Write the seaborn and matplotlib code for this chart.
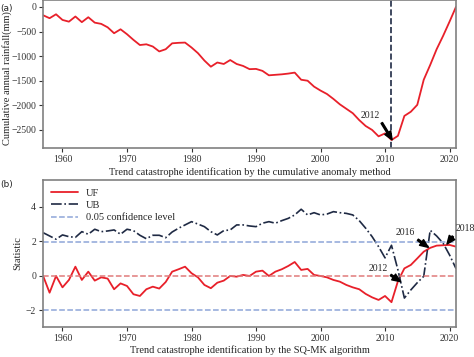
import numpy as np
import pandas as pd
import matplotlib
matplotlib.use("Agg")
import matplotlib.pyplot as plt
import seaborn as sns

years = list(range(1957, 2022))

# cumulative anomaly of annual rainfall (mm)
cum_rain = [-170, -230, -150, -265, -300, -195, -310, -210, -320, -345,
            -415, -535, -455, -555, -670, -775, -760, -805, -905, -860,
            -740, -730, -725, -825, -940, -1090, -1215, -1130, -1160, -1080,
            -1160, -1200, -1265, -1260, -1300, -1390, -1380, -1370, -1355, -1335,
            -1480, -1500, -1620, -1700, -1770, -1870, -1980, -2070, -2160, -2300,
            -2420, -2500, -2630, -2570, -2705, -2620, -2215, -2130, -1990, -1480,
            -1180, -860, -590, -300, 0]

uf = [0.0, -0.97, 0.0, -0.66, -0.23, 0.54, -0.23, 0.25, -0.27, -0.08,
      -0.15, -0.77, -0.43, -0.58, -1.06, -1.16, -0.77, -0.62, -0.73, -0.35,
      0.25, 0.39, 0.54, 0.16, -0.08, -0.52, -0.71, -0.39, -0.27, 0.0,
      -0.04, 0.06, 0.0, 0.25, 0.31, 0.0, 0.25, 0.39, 0.58, 0.81,
      0.35, 0.41, 0.06, 0.0, -0.08, -0.23, -0.33, -0.52, -0.66, -0.77,
      -1.04, -1.24, -1.39, -1.16, -1.52, -0.3, 0.44, 0.64, 1.02, 1.41,
      1.63, 1.76, 1.78, 1.8, 1.7]

ub = [2.51, 2.32, 2.13, 2.38, 2.28, 2.24, 2.57, 2.42, 2.71, 2.57,
      2.61, 2.67, 2.42, 2.71, 2.63, 2.36, 2.16, 2.36, 2.36, 2.22,
      2.55, 2.77, 2.96, 3.15, 3.01, 2.86, 2.57, 2.38, 2.63, 2.67,
      2.96, 2.96, 2.9, 2.86, 3.06, 3.15, 3.06, 3.21, 3.34, 3.54,
      3.87, 3.54, 3.67, 3.54, 3.59, 3.73, 3.67, 3.63, 3.54, 3.21,
      2.77, 2.28, 1.7, 1.05, 1.78, 0.35, -1.28, -0.81, -0.39, -0.02,
      2.65, 2.32, 1.9, 1.22, 0.43]

df = pd.DataFrame({"Year": years, "Cum": cum_rain, "UF": uf, "UB": ub})

sns.set_style("ticks")
plt.rcParams["font.family"] = ["Liberation Serif", "DejaVu Serif"]
plt.rcParams["font.size"] = 7

fig = plt.figure(figsize=(4.74, 3.57), dpi=100)
ax1 = fig.add_axes([0.091, 0.585, 0.871, 0.415])
ax2 = fig.add_axes([0.091, 0.084, 0.871, 0.412])

# (a) cumulative anomaly
sns.lineplot(data=df, x="Year", y="Cum", ax=ax1, color="#e8202a", linewidth=1.3)
ax1.axvline(2011, color="#1f2a44", linestyle="--", linewidth=1.2)
ax1.annotate("2012", xy=(2011.1, -2700), xytext=(2006.2, -2250),
             fontsize=7,
             arrowprops=dict(facecolor="black", edgecolor="black", width=1.2,
                             headwidth=5, headlength=6, shrink=0.0))
ax1.set_xlim(1957, 2021)
ax1.set_ylim(-2870, 140)
ax1.set_yticks([0, -500, -1000, -1500, -2000, -2500])
ax1.set_xticks([1960, 1970, 1980, 1990, 2000, 2010, 2020])
ax1.set_xlabel("Trend catastrophe identification by the cumulative anomaly method", fontsize=7.5, labelpad=2)
ax1.set_ylabel("Cumulative annual rainfall(mm)", fontsize=7.5)
ax1.yaxis.set_label_coords(-0.075, 0.47)

# (b) SQ-MK
sns.lineplot(data=df, x="Year", y="UF", ax=ax2, color="#e8202a", linewidth=1.3, label="UF")
sns.lineplot(data=df, x="Year", y="UB", ax=ax2, color="#1f2a44", linewidth=1.2,
             linestyle="-.", label="UB")
ax2.axhline(1.96, color="#8ea6d8", linestyle="--", linewidth=1.1, label="0.05 confidence level")
ax2.axhline(-1.96, color="#8ea6d8", linestyle="--", linewidth=1.1)
ax2.axhline(0, color="#e07a7a", linestyle="--", linewidth=1.1)

arrow = dict(facecolor="black", edgecolor="black", width=1.2, headwidth=5, headlength=6, shrink=0.0)
ax2.annotate("2012", xy=(2012.4, -0.33), xytext=(2007.4, 0.3), fontsize=7, arrowprops=arrow)
ax2.annotate("2016", xy=(2016.7, 1.66), xytext=(2011.6, 2.35), fontsize=7, arrowprops=arrow)
ax2.annotate("2018", xy=(2019.6, 1.85), xytext=(2020.9, 2.6), fontsize=7, arrowprops=arrow,
             annotation_clip=False)

ax2.set_xlim(1957, 2021)
ax2.set_ylim(-2.96, 5.57)
ax2.set_yticks([-2, 0, 2, 4])
ax2.set_xticks([1960, 1970, 1980, 1990, 2000, 2010, 2020])
ax2.set_xlabel("Trend catastrophe identification by the SQ-MK algorithm", fontsize=7.5, labelpad=2)
ax2.set_ylabel("Statistic", fontsize=7.5, labelpad=3)
ax2.legend(loc="upper left", frameon=False, fontsize=7.5, handlelength=2.5,
           borderaxespad=0.4, labelspacing=0.3)

for ax in (ax1, ax2):
    for s in ax.spines.values():
        s.set_color("#808080")
        s.set_linewidth(1.2)
    ax.tick_params(colors="#333333", length=3, width=0.8, labelsize=7, pad=2)

fig.text(0.0, 0.99, "(a)", fontsize=6.5, family="DejaVu Sans", va="top")
fig.text(0.0, 0.495, "(b)", fontsize=6.5, family="DejaVu Sans", va="top")

fig.savefig("out.png", dpi=100)
